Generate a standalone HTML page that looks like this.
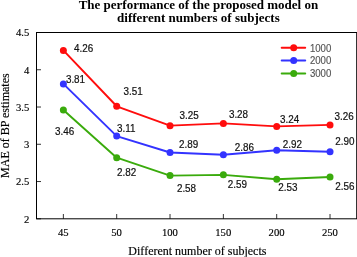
<!DOCTYPE html>
<html><head><meta charset="utf-8"><title>chart</title>
<style>
html,body{margin:0;padding:0;background:#fff}
svg{display:block}
.t{font-family:"Liberation Serif",serif;font-weight:bold;font-size:13px;fill:#000}
.ax{font-family:"Liberation Serif",serif;font-size:12px;fill:#000;stroke:#000;stroke-width:0.15px}
.tk{font-family:"Liberation Serif",serif;font-size:10.67px;fill:#000;stroke:#000;stroke-width:0.15px}
.dl{font-family:"Liberation Sans",sans-serif;font-size:10.4px;fill:#111;stroke:#111;stroke-width:0.2px}
.lg{font-family:"Liberation Sans",sans-serif;font-size:10.4px;fill:#555;stroke:#555;stroke-width:0.15px}
</style></head><body>
<svg width="357" height="257" viewBox="0 0 357 257">
<rect width="357" height="257" fill="#fff"/>
<text class="t" x="198.4" y="8.9" text-anchor="middle">The performance of the proposed model on</text>
<text class="t" x="198.4" y="21.9" text-anchor="middle">different numbers of subjects</text>
<rect x="36.5" y="32.5" width="320.2" height="186.3" fill="none" stroke="#000" stroke-width="1"/>
<line x1="63.37" y1="218.8" x2="63.37" y2="214.0" stroke="#000" stroke-width="0.8"/>
<line x1="116.70" y1="218.8" x2="116.70" y2="214.0" stroke="#000" stroke-width="0.8"/>
<line x1="170.03" y1="218.8" x2="170.03" y2="214.0" stroke="#000" stroke-width="0.8"/>
<line x1="223.37" y1="218.8" x2="223.37" y2="214.0" stroke="#000" stroke-width="0.8"/>
<line x1="276.70" y1="218.8" x2="276.70" y2="214.0" stroke="#000" stroke-width="0.8"/>
<line x1="330.03" y1="218.8" x2="330.03" y2="214.0" stroke="#000" stroke-width="0.8"/>
<line x1="36.5" y1="218.80" x2="41.0" y2="218.80" stroke="#000" stroke-width="0.8"/>
<text class="tk" x="29.3" y="222.60" text-anchor="end">2</text>
<line x1="36.5" y1="181.54" x2="41.0" y2="181.54" stroke="#000" stroke-width="0.8"/>
<text class="tk" x="29.3" y="185.34" text-anchor="end">2.5</text>
<line x1="36.5" y1="144.28" x2="41.0" y2="144.28" stroke="#000" stroke-width="0.8"/>
<text class="tk" x="29.3" y="148.08" text-anchor="end">3</text>
<line x1="36.5" y1="107.02" x2="41.0" y2="107.02" stroke="#000" stroke-width="0.8"/>
<text class="tk" x="29.3" y="110.82" text-anchor="end">3.5</text>
<line x1="36.5" y1="69.76" x2="41.0" y2="69.76" stroke="#000" stroke-width="0.8"/>
<text class="tk" x="29.3" y="73.56" text-anchor="end">4</text>
<line x1="36.5" y1="32.50" x2="41.0" y2="32.50" stroke="#000" stroke-width="0.8"/>
<text class="tk" x="29.3" y="36.30" text-anchor="end">4.5</text>
<text class="tk" x="63.27" y="235.9" text-anchor="middle">45</text>
<text class="tk" x="116.60" y="235.9" text-anchor="middle">50</text>
<text class="tk" x="169.93" y="235.9" text-anchor="middle">100</text>
<text class="tk" x="223.27" y="235.9" text-anchor="middle">150</text>
<text class="tk" x="276.60" y="235.9" text-anchor="middle">200</text>
<text class="tk" x="329.93" y="235.9" text-anchor="middle">250</text>
<text class="ax" x="197.4" y="254.5" text-anchor="middle">Different number of subjects</text>
<text class="ax" transform="translate(8.9,125.6) rotate(-90)" text-anchor="middle">MAE of BP estimates</text>
<polyline points="63.37,50.38 116.70,106.27 170.03,125.65 223.37,123.41 276.70,126.40 330.03,124.90" fill="none" stroke="#ff0d0d" stroke-width="1.9" stroke-linejoin="round" stroke-linecap="round"/>
<circle cx="63.37" cy="50.38" r="3.5" fill="#ff0d0d"/>
<circle cx="116.70" cy="106.27" r="3.5" fill="#ff0d0d"/>
<circle cx="170.03" cy="125.65" r="3.5" fill="#ff0d0d"/>
<circle cx="223.37" cy="123.41" r="3.5" fill="#ff0d0d"/>
<circle cx="276.70" cy="126.40" r="3.5" fill="#ff0d0d"/>
<circle cx="330.03" cy="124.90" r="3.5" fill="#ff0d0d"/>
<polyline points="63.37,83.92 116.70,136.08 170.03,152.48 223.37,154.71 276.70,150.24 330.03,151.73" fill="none" stroke="#3333ff" stroke-width="1.9" stroke-linejoin="round" stroke-linecap="round"/>
<circle cx="63.37" cy="83.92" r="3.5" fill="#3333ff"/>
<circle cx="116.70" cy="136.08" r="3.5" fill="#3333ff"/>
<circle cx="170.03" cy="152.48" r="3.5" fill="#3333ff"/>
<circle cx="223.37" cy="154.71" r="3.5" fill="#3333ff"/>
<circle cx="276.70" cy="150.24" r="3.5" fill="#3333ff"/>
<circle cx="330.03" cy="151.73" r="3.5" fill="#3333ff"/>
<polyline points="63.37,110.00 116.70,157.69 170.03,175.58 223.37,174.83 276.70,179.30 330.03,177.07" fill="none" stroke="#3aab0c" stroke-width="1.9" stroke-linejoin="round" stroke-linecap="round"/>
<circle cx="63.37" cy="110.00" r="3.5" fill="#3aab0c"/>
<circle cx="116.70" cy="157.69" r="3.5" fill="#3aab0c"/>
<circle cx="170.03" cy="175.58" r="3.5" fill="#3aab0c"/>
<circle cx="223.37" cy="174.83" r="3.5" fill="#3aab0c"/>
<circle cx="276.70" cy="179.30" r="3.5" fill="#3aab0c"/>
<circle cx="330.03" cy="177.07" r="3.5" fill="#3aab0c"/>
<text class="dl" transform="translate(74.0,51.9) scale(0.95,1)">4.26</text>
<text class="dl" transform="translate(123.5,95.1) scale(0.95,1)">3.51</text>
<text class="dl" transform="translate(179.5,119.0) scale(0.95,1)">3.25</text>
<text class="dl" transform="translate(228.9,117.7) scale(0.95,1)">3.28</text>
<text class="dl" transform="translate(280.0,123.3) scale(0.95,1)">3.24</text>
<text class="dl" transform="translate(334.6,119.5) scale(0.95,1)">3.26</text>
<text class="dl" transform="translate(65.9,83.0) scale(0.95,1)">3.81</text>
<text class="dl" transform="translate(117.1,132.0) scale(0.95,1)">3.11</text>
<text class="dl" transform="translate(179.0,147.5) scale(0.95,1)">2.89</text>
<text class="dl" transform="translate(234.7,151.3) scale(0.95,1)">2.86</text>
<text class="dl" transform="translate(282.8,148.0) scale(0.95,1)">2.92</text>
<text class="dl" transform="translate(335.2,144.5) scale(0.95,1)">2.90</text>
<text class="dl" transform="translate(55.1,135.0) scale(0.95,1)">3.46</text>
<text class="dl" transform="translate(117.1,175.6) scale(0.95,1)">2.82</text>
<text class="dl" transform="translate(176.9,192.2) scale(0.95,1)">2.58</text>
<text class="dl" transform="translate(227.7,187.9) scale(0.95,1)">2.59</text>
<text class="dl" transform="translate(278.3,191.2) scale(0.95,1)">2.53</text>
<text class="dl" transform="translate(335.2,189.7) scale(0.95,1)">2.56</text>
<line x1="281.7" y1="47.8" x2="305.2" y2="47.8" stroke="#ff0d0d" stroke-width="2" stroke-linecap="round"/>
<circle cx="293.7" cy="47.8" r="3.5" fill="#ff0d0d"/>
<text class="lg" transform="translate(309.9,51.5) scale(0.925,1)">1000</text>
<line x1="281.7" y1="60.6" x2="305.2" y2="60.6" stroke="#3333ff" stroke-width="2" stroke-linecap="round"/>
<circle cx="293.7" cy="60.6" r="3.5" fill="#3333ff"/>
<text class="lg" transform="translate(309.9,64.3) scale(0.925,1)">2000</text>
<line x1="281.7" y1="73.5" x2="305.2" y2="73.5" stroke="#3aab0c" stroke-width="2" stroke-linecap="round"/>
<circle cx="293.7" cy="73.5" r="3.5" fill="#3aab0c"/>
<text class="lg" transform="translate(309.9,77.2) scale(0.925,1)">3000</text>
</svg>
</body></html>
